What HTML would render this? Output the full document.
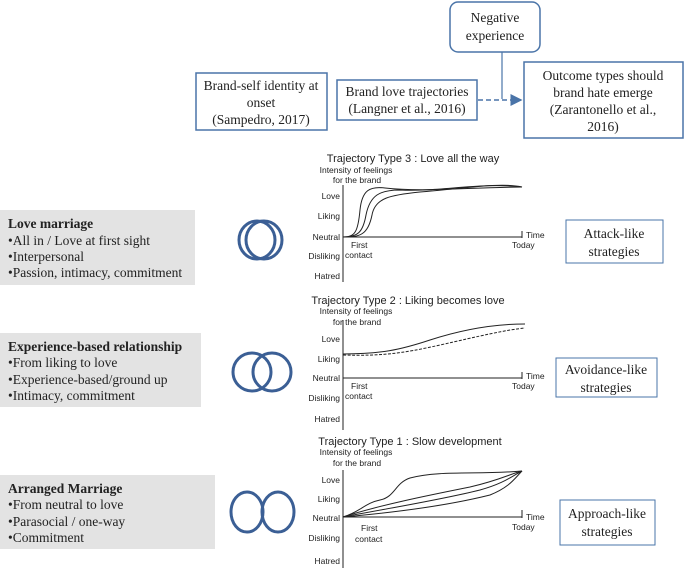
<!DOCTYPE html>
<html><head><style>
body{margin:0;background:#fff}
svg{display:block}
.s{font-family:"Liberation Serif",serif;fill:#222}
.a{font-family:"Liberation Sans",sans-serif;fill:#222}
</style></head><body>
<svg width="685" height="568" viewBox="0 0 685 568" xmlns="http://www.w3.org/2000/svg">
<defs><marker id="ar" markerWidth="8" markerHeight="8" refX="7" refY="4" orient="auto"><path d="M0,0 L8,4 L0,8z" fill="#4a74a8"/></marker></defs>
<g stroke="#4a74a8" stroke-width="1.5" fill="#fff">
<rect x="450" y="2" width="90" height="50" rx="8"/>
<rect x="196" y="73" width="131" height="57"/>
<rect x="337" y="80" width="140" height="40"/>
<rect x="524" y="62" width="159" height="76"/>
<rect x="566" y="220" width="97" height="43" stroke-width="1"/>
<rect x="556" y="358" width="101" height="39" stroke-width="1"/>
<rect x="560" y="500" width="95" height="45" stroke-width="1"/>
</g>
<line x1="502" y1="52" x2="502" y2="99" stroke="#4a74a8" stroke-width="1.2"/>
<line x1="478" y1="100" x2="521" y2="100" stroke="#4a74a8" stroke-width="1.5" stroke-dasharray="5,3" marker-end="url(#ar)"/>
<g class="s" font-size="13.5" text-anchor="middle">
<text x="495" y="22">Negative</text><text x="495" y="40">experience</text>
<text x="261" y="90">Brand-self identity at</text><text x="261" y="107">onset</text><text x="261" y="124">(Sampedro, 2017)</text>
<text x="407" y="96">Brand love trajectories</text><text x="407" y="113">(Langner et al., 2016)</text>
<text x="603" y="80">Outcome types should</text><text x="603" y="97">brand hate emerge</text><text x="603" y="114">(Zarantonello et al.,</text><text x="603" y="131">2016)</text>
<text x="614" y="238">Attack-like</text><text x="614" y="256">strategies</text>
<text x="606" y="374">Avoidance-like</text><text x="606" y="392">strategies</text>
<text x="607" y="518">Approach-like</text><text x="607" y="536">strategies</text>
</g>
<g fill="#e3e3e3"><rect x="0" y="210" width="195" height="75"/><rect x="0" y="333" width="201" height="74"/><rect x="0" y="475" width="215" height="74"/></g>
<g class="s" font-size="13.5">
<text x="8" y="228" font-weight="bold">Love marriage</text><text x="8" y="245">•All in / Love at first sight</text><text x="8" y="261">•Interpersonal</text><text x="8" y="277">•Passion, intimacy, commitment</text>
<text x="8" y="351" font-weight="bold">Experience-based relationship</text><text x="8" y="367">•From liking to love</text><text x="8" y="384">•Experience-based/ground up</text><text x="8" y="400">•Intimacy, commitment</text>
<text x="8" y="493" font-weight="bold">Arranged Marriage</text><text x="8" y="509">•From neutral to love</text><text x="8" y="526">•Parasocial / one-way</text><text x="8" y="542">•Commitment</text>
</g>
<g fill="none" stroke="#3b5f95" stroke-width="3">
<ellipse cx="257" cy="240" rx="18" ry="19"/><ellipse cx="264" cy="240" rx="18" ry="19"/>
<ellipse cx="252" cy="372" rx="19" ry="19"/><ellipse cx="272" cy="372" rx="19" ry="19"/>
<ellipse cx="247" cy="512" rx="16" ry="20"/><ellipse cx="278" cy="512" rx="16" ry="20"/>
</g>
<!-- charts -->
<g stroke="#222" fill="none" stroke-width="1">
<line x1="343" y1="185" x2="343" y2="282"/><line x1="343" y1="237" x2="522" y2="237"/><line x1="522" y1="231" x2="522" y2="238"/>
<path d="M343,237 C355,237 358,232 360,210 C362,190 370,186 385,188 C420,192 460,188 522,187"/>
<path d="M343,237 C358,237 363,232 366,215 C370,195 380,190 400,190 C440,192 480,182 522,187"/>
<path d="M343,237 C360,237 368,235 372,215 C375,198 390,195 420,192 C460,189 500,182 522,187"/>
<line x1="343" y1="320" x2="343" y2="430"/><line x1="343" y1="378" x2="522" y2="378"/><line x1="522" y1="372" x2="522" y2="379"/>
<path d="M343,354 C380,354 400,350 430,340 C470,327 500,324 525,324"/>
<path d="M343,355 C380,356 400,354 440,345 C480,336 505,330 525,328" stroke-dasharray="3,1.5"/>
<line x1="343" y1="470" x2="343" y2="568"/><line x1="343" y1="517" x2="522" y2="517"/><line x1="522" y1="510" x2="522" y2="518"/>
<path d="M343,517 C360,512 365,503 380,500 C395,497 395,483 410,478 C440,470 480,475 522,471"/>
<path d="M343,517 C380,505 430,495 470,487 C500,480 510,474 522,471"/>
<path d="M343,517 C390,508 440,500 480,490 C505,483 512,476 522,471"/>
<path d="M343,517 C400,512 450,505 490,495 C510,487 515,478 522,471"/>
</g>
<g class="a" font-size="11" text-anchor="middle">
<text x="413" y="162">Trajectory Type 3 : Love all the way</text>
<text x="408" y="304">Trajectory Type 2 : Liking becomes love</text>
<text x="410" y="445">Trajectory Type 1 : Slow development</text>
</g>
<g class="a" font-size="8.5">
<g text-anchor="middle"><text x="356" y="173">Intensity of feelings</text><text x="357" y="183">for the brand</text>
<text x="356" y="314">Intensity of feelings</text><text x="357" y="325">for the brand</text>
<text x="356" y="455">Intensity of feelings</text><text x="357" y="466">for the brand</text></g>
<g text-anchor="end">
<text x="340" y="199">Love</text><text x="340" y="219">Liking</text><text x="340" y="240">Neutral</text><text x="340" y="259">Disliking</text><text x="340" y="279">Hatred</text>
<text x="340" y="342">Love</text><text x="340" y="362">Liking</text><text x="340" y="381">Neutral</text><text x="340" y="401">Disliking</text><text x="340" y="422">Hatred</text>
<text x="340" y="483">Love</text><text x="340" y="502">Liking</text><text x="340" y="521">Neutral</text><text x="340" y="541">Disliking</text><text x="340" y="564">Hatred</text>
</g>
<text x="351" y="248">First</text><text x="345" y="258">contact</text><text x="512" y="248">Today</text><text x="526" y="238">Time</text>
<text x="351" y="389">First</text><text x="345" y="399">contact</text><text x="512" y="389">Today</text><text x="526" y="379">Time</text>
<text x="361" y="531">First</text><text x="355" y="542">contact</text><text x="512" y="530">Today</text><text x="526" y="520">Time</text>
</g>
</svg>
</body></html>
